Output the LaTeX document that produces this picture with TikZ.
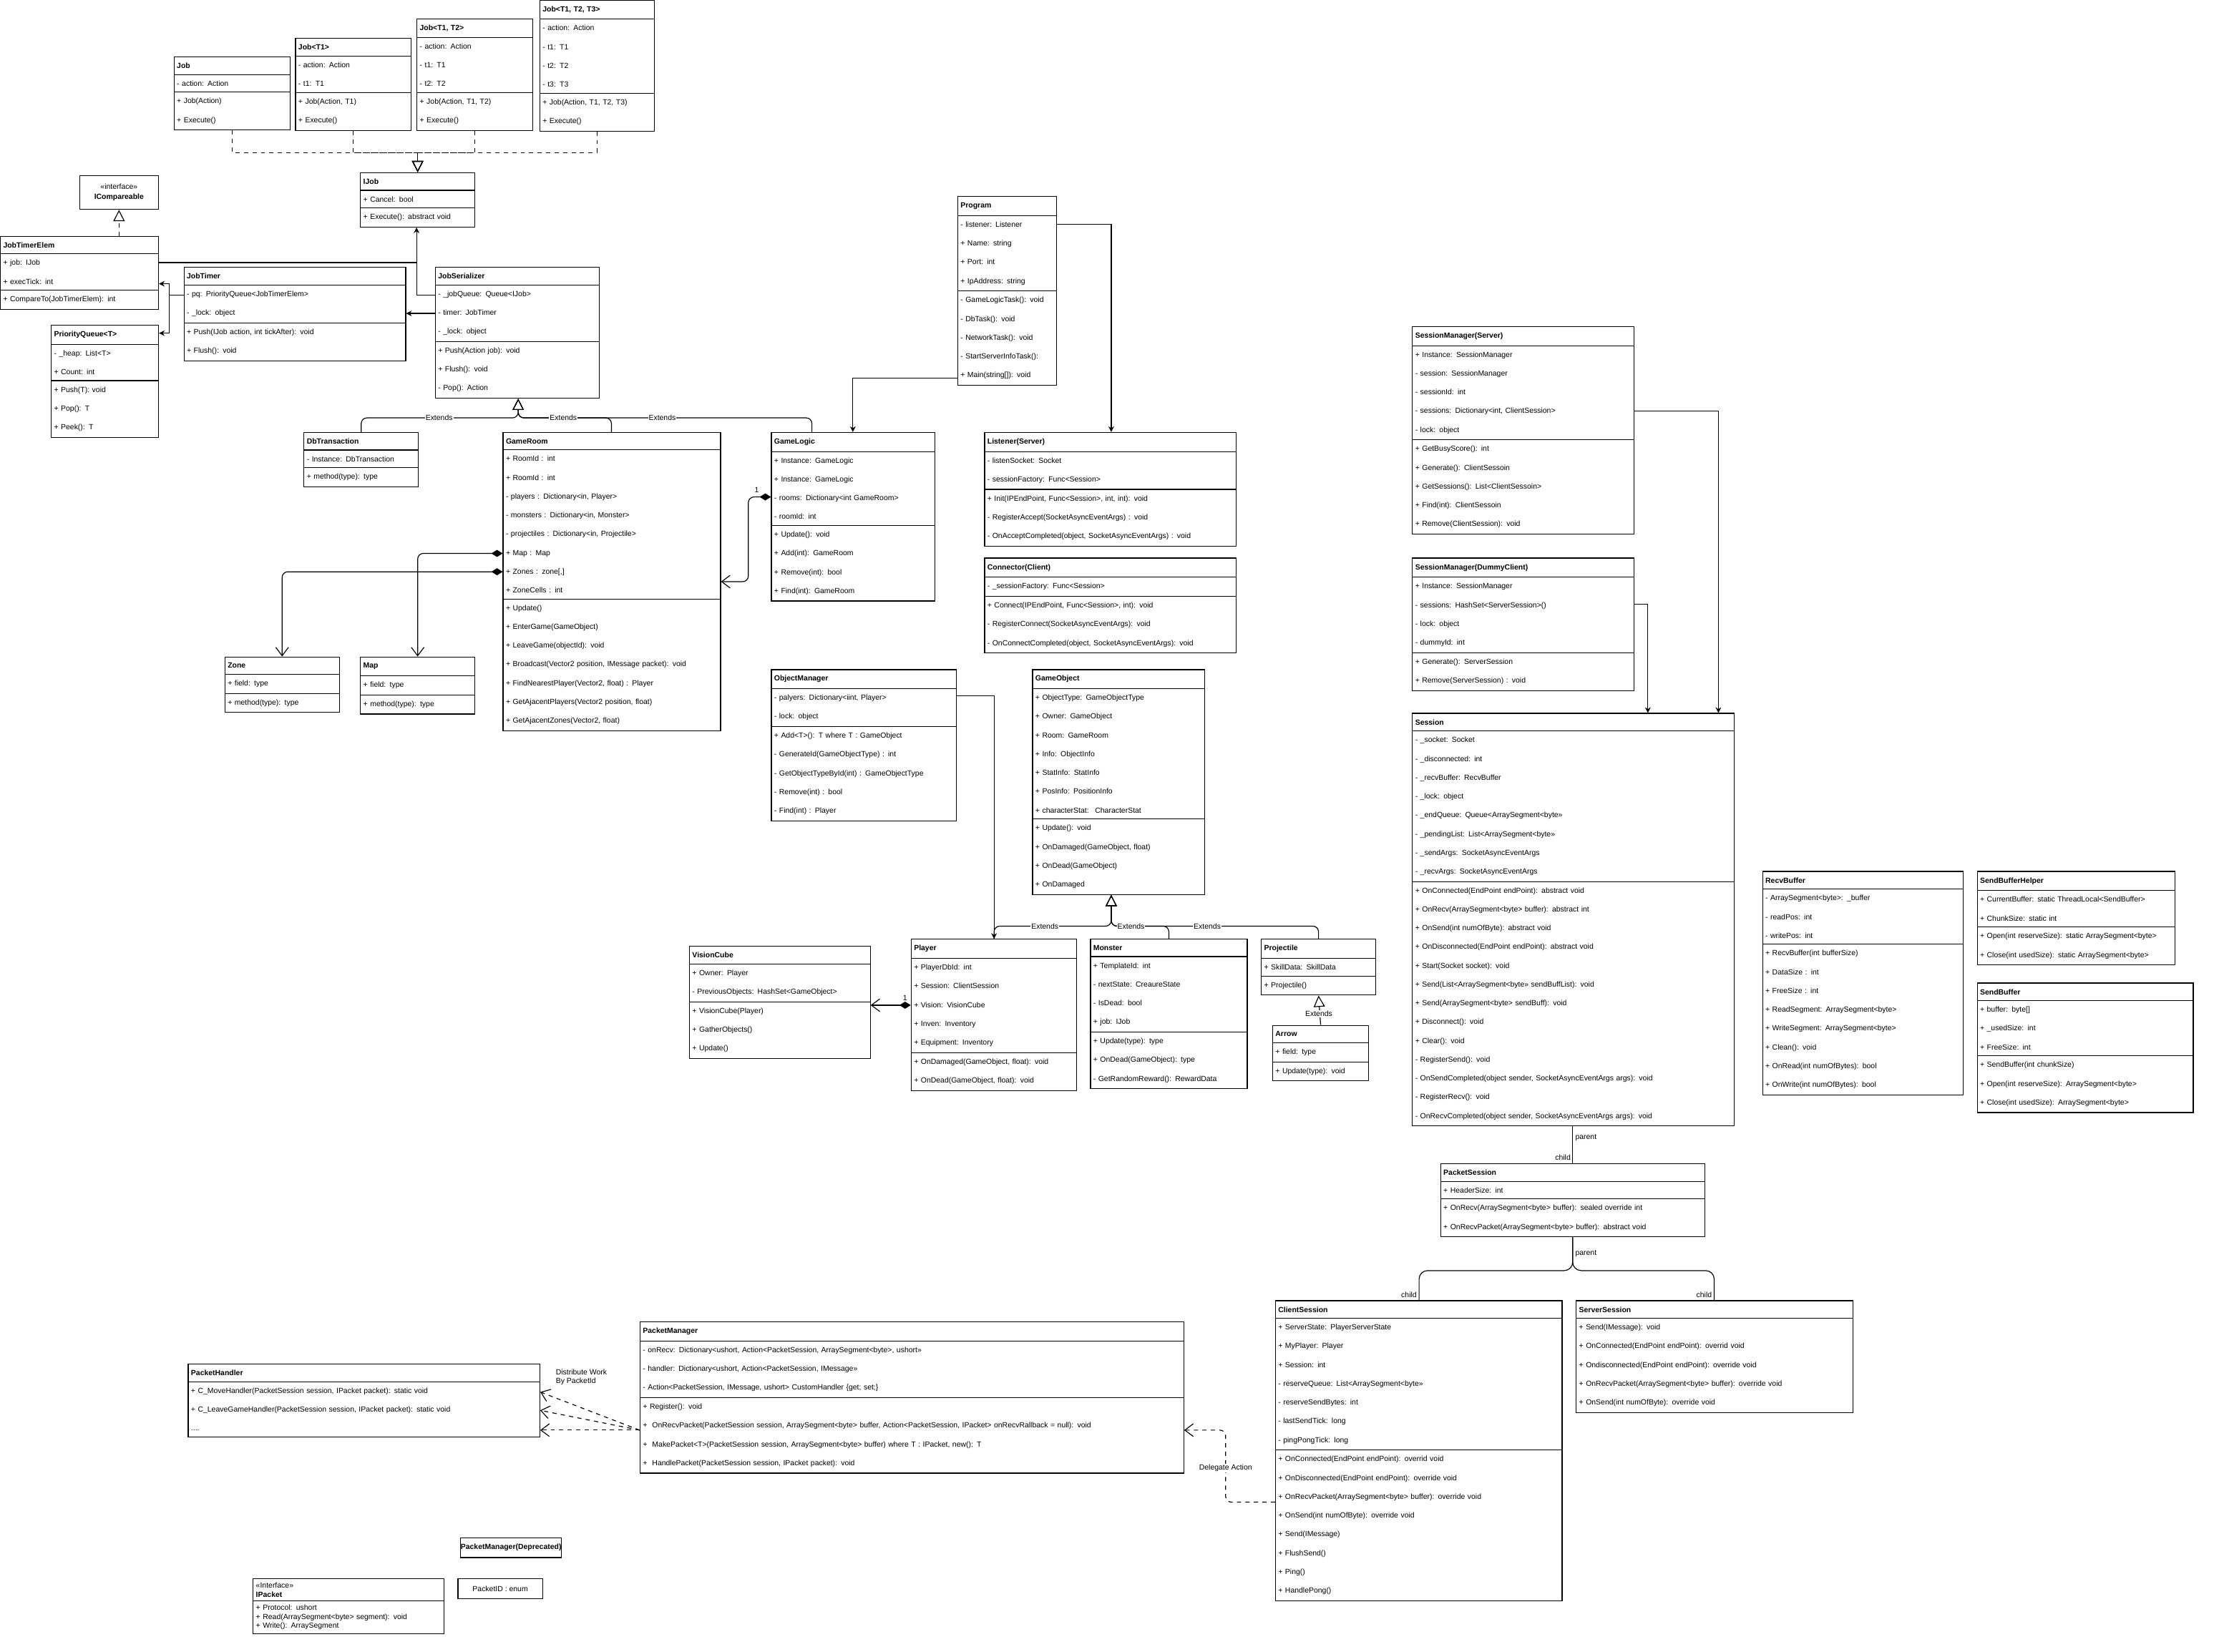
\documentclass[tikz,border=0pt]{standalone}
\usepackage{fontspec}
\setsansfont{Liberation Sans}
\usetikzlibrary{shapes.multipart,arrows.meta}
\tikzset{
 uml/.style={draw,line width=0.6pt,anchor=north west,rectangle split,rectangle split parts=3,
  rectangle split part align={center,left,left},inner xsep=2pt,inner ysep=4pt,
  font=\sffamily\fontsize{5.3}{13.3}\selectfont},
 umltwo/.style={uml,rectangle split parts=2,rectangle split part align={center,left}},
 lbl/.style={font=\sffamily\fontsize{5.3}{6.5}\selectfont,fill=white,inner sep=0.5pt},
 lblt/.style={font=\sffamily\fontsize{5.3}{6.5}\selectfont,inner sep=0.5pt},
 conn/.style={line width=0.6pt},
 inh/.style={conn,-{Triangle[open,length=8pt,width=8pt]},rounded corners=4pt},
 real/.style={conn,dashed,-{Triangle[open,length=8pt,width=8pt]}},
 assoc/.style={conn,-{Stealth[length=4pt,width=4pt]}},
 comp/.style={conn,{Diamond[length=8pt,width=5pt]}-{Straight Barb[length=6pt,width=9pt]},rounded corners=4pt},
 dep/.style={conn,dashed,-{Straight Barb[length=6pt,width=9pt]}},
}
\newcommand\umlc[7]{\pgfmathsetmacro\tw{#4-4}\node[uml,text width=\tw pt] (#1) at (#2,#3) {\textbf{#5}\nodepart{second}#6\nodepart{third}#7};}
\newcommand\umlb[6]{\pgfmathsetmacro\tw{#4-4}\node[umltwo,text width=\tw pt] (#1) at (#2,#3) {\textbf{#5}\nodepart{second}#6};}
\begin{document}
\begin{tikzpicture}[x=1pt,y=-1pt]
\useasboundingbox[fill=white] (0,0) rectangle (1568,1170);
% Jobs
\umlc{job}{123}{40}{82}{Job}{- action: Action}{+ Job(Action)\\+ Execute()}
\umlc{job1}{209}{27}{82}{Job<T1>}{- action: Action\\- t1: T1}{+ Job(Action, T1)\\+ Execute()}
\umlc{job2}{295}{13}{82}{Job<T1, T2>}{- action: Action\\- t1: T1\\- t2: T2}{+ Job(Action, T1, T2)\\+ Execute()}
\umlc{job3}{382}{0}{81}{Job<T1, T2, T3>}{- action: Action\\- t1: T1\\- t2: T2\\- t3: T3}{+ Job(Action, T1, T2, T3)\\+ Execute()}
\umlc{ijob}{255}{122}{81}{IJob}{+ Cancel: bool}{+ Execute(): abstract void}
\foreach \j in {job,job1,job2,job3}{\draw[real] (\j.south) |- (295,108) -| (ijob.north);}
\node[draw,line width=0.6pt,anchor=north west,minimum width=56pt,minimum height=24pt,align=center,font=\sffamily\fontsize{5.3}{7}\selectfont] (icmp) at (56,124) {«interface»\\\textbf{ICompareable}};
\umlc{jte}{0}{167}{112}{JobTimerElem}{+ job: IJob\\+ execTick: int}{+ CompareTo(JobTimerElem): int}
\umlc{pq}{36}{230}{76}{PriorityQueue<T>}{- \_heap: List<T>\\+ Count: int}{+ Push(T): void\\+ Pop(): T\\+ Peek(): T}
\umlc{jt}{130}{189}{157}{JobTimer}{- pq: PriorityQueue<JobTimerElem>\\- \_lock: object}{+ Push(IJob action, int tickAfter): void\\+ Flush(): void}
\umlc{js}{308}{189}{116}{JobSerializer}{- \_jobQueue: Queue<IJob>\\- timer: JobTimer\\- \_lock: object}{+ Push(Action job): void\\+ Flush(): void\\- Pop(): Action}
\draw[real] (jte.north -| icmp.south) -- (icmp.south);
\draw[conn] (jte.east |- 0,186) -- (295,186);
\draw[assoc] (js.west |- 0,209) -- (295,209) -- (ijob.south -| 295,0);
\draw[conn] (jt.west |- 0,209) -- (120,209);
\draw[assoc] (120,209) |- (jte.east |- 0,201);
\draw[assoc] (120,209) |- (pq.east |- 0,236);
\draw[assoc] (js.west |- 0,222) -- (jt.east |- 0,222);
% game
\umlc{db}{215}{306}{81}{DbTransaction}{- Instance: DbTransaction}{+ method(type): type}
\umlc{gr}{356}{306}{154}{GameRoom}{+ RoomId : int\\+ RoomId : int\\- players : Dictionary<in, Player>\\- monsters : Dictionary<in, Monster>\\- projectiles : Dictionary<in, Projectile>\\+ Map : Map\\+ Zones : zone[,]\\+ ZoneCells : int}{+ Update()\\+ EnterGame(GameObject)\\+ LeaveGame(objectId): void\\+ Broadcast(Vector2 position, IMessage packet): void\\+ FindNearestPlayer(Vector2, float) : Player\\+ GetAjacentPlayers(Vector2 position, float)\\+ GetAjacentZones(Vector2, float)}
\umlc{gl}{546}{306}{116}{GameLogic}{+ Instance: GameLogic\\+ Instance: GameLogic\\- rooms: Dictionary<int GameRoom>\\- roomId: int}{+ Update(): void\\+ Add(int): GameRoom\\+ Remove(int): bool\\+ Find(int): GameRoom}
\draw[inh] (db.north) |- (367,296) -- (js.south -| 367,0);
\draw[inh] (gr.north -| 433,0) |- (367,296) -- (js.south -| 367,0);
\draw[inh] (gl.north -| 575,0) |- (367,296) -- (js.south -| 367,0);
\node[lbl] at (311,296) {Extends};
\node[lbl] at (399,296) {Extends};
\node[lbl] at (469,296) {Extends};
\umlc{zone}{159}{465}{81}{Zone}{+ field: type}{+ method(type): type}
\umlc{map}{255}{465}{81}{Map}{+ field: type}{+ method(type): type}
\draw[comp] (gl.west |- 0,352) -- (530,352) |- (gr.east |- 0,412);
\node[lblt] at (536,347) {1};
\draw[comp] (gr.west |- 0,392) -| (map.north);
\draw[comp] (gr.west |- 0,405) -| (zone.north);
% program
\umlc{prog}{678}{139}{70}{Program}{- listener: Listener\\+ Name: string\\+ Port: int\\+ IpAddress: string}{- GameLogicTask(): void\\- DbTask(): void\\- NetworkTask(): void\\- StartServerInfoTask():\\+ Main(string[]): void}
\umlc{lis}{697}{306}{178}{Listener(Server)}{- listenSocket: Socket\\- sessionFactory: Func<Session>}{+ Init(IPEndPoint, Func<Session>, int, int): void\\- RegisterAccept(SocketAsyncEventArgs) : void\\- OnAcceptCompleted(object, SocketAsyncEventArgs) : void}
\umlc{con}{697}{395}{178}{Connector(Client)}{- \_sessionFactory: Func<Session>}{+ Connect(IPEndPoint, Func<Session>, int): void\\- RegisterConnect(SocketAsyncEventArgs): void\\- OnConnectCompleted(object, SocketAsyncEventArgs): void}
\draw[assoc] (prog.east |- 0,159) -| (lis.north -| 787,0);
\draw[assoc] (prog.west |- 0,268) -| (gl.north -| 604,0);
% objects
\umlc{om}{546}{474}{131}{ObjectManager}{- palyers: Dictionary<iint, Player>\\- lock: object}{+ Add<T>(): T where T : GameObject\\- GenerateId(GameObjectType) : int\\- GetObjectTypeById(int) : GameObjectType\\- Remove(int) : bool\\- Find(int) : Player}
\umlc{go}{731}{474}{122}{GameObject}{+ ObjectType: GameObjectType\\+ Owner: GameObject\\+ Room: GameRoom\\+ Info: ObjectInfo\\+ StatInfo: StatInfo\\+ PosInfo: PositionInfo\\+ characterStat:~ CharacterStat}{+ Update(): void\\+ OnDamaged(GameObject, float)\\+ OnDead(GameObject)\\+ OnDamaged}
\umlc{pl}{645}{665}{117}{Player}{+ PlayerDbId: int\\+ Session: ClientSession\\+ Vision: VisionCube\\+ Inven: Inventory\\+ Equipment: Inventory}{+ OnDamaged(GameObject, float): void\\+ OnDead(GameObject, float): void}
\umlc{mon}{772}{665}{111}{Monster}{+ TemplateId: int\\- nextState: CreaureState\\- IsDead: bool\\+ job: IJob}{+ Update(type): type\\+ OnDead(GameObject): type\\- GetRandomReward(): RewardData}
\umlc{proj}{893}{665}{81}{Projectile}{+ SkillData: SkillData}{+ Projectile()}
\umlc{arrow}{901}{726}{68}{Arrow}{+ field: type}{+ Update(type): void}
\umlc{vc}{488}{670}{128}{VisionCube}{+ Owner: Player\\- PreviousObjects: HashSet<GameObject>}{+ VisionCube(Player)\\+ GatherObjects()\\+ Update()}
\draw[assoc] (om.east |- 0,493) -| (pl.north -| 704,0);
\draw[inh] (pl.north -| 704,0) |- (787,656) -- (go.south -| 787,0);
\draw[inh] (mon.north) |- (787,656) -- (go.south -| 787,0);
\draw[inh] (proj.north) |- (787,656) -- (go.south -| 787,0);
\node[lbl] at (740,656) {Extends};
\node[lbl] at (801,656) {Extends};
\node[lbl] at (855,656) {Extends};
\draw[inh] (arrow.north) -- (proj.south);
\node[lbl] at (934,718) {Extends};
\draw[comp] (pl.west |- 0,712) -- (vc.east |- 0,712);
\node[lblt] at (641,707) {1};
% sessions
\umlc{smS}{1000}{231}{157}{SessionManager(Server)}{+ Instance: SessionManager\\- session: SessionManager\\- sessionId: int\\- sessions: Dictionary<int, ClientSession>\\- lock: object}{+ GetBusyScore(): int\\+ Generate(): ClientSessoin\\+ GetSessions(): List<ClientSessoin>\\+ Find(int): ClientSessoin\\+ Remove(ClientSession): void}
\umlc{smD}{1000}{395}{157}{SessionManager(DummyClient)}{+ Instance: SessionManager\\- sessions: HashSet<ServerSession>()\\- lock: object\\- dummyId: int}{+ Generate(): ServerSession\\+ Remove(ServerSession) : void}
\umlc{ses}{1000}{505}{228}{Session}{- \_socket: Socket\\- \_disconnected: int\\- \_recvBuffer: RecvBuffer\\- \_lock: object\\- \_endQueue: Queue<ArraySegment<byte>>\\- \_pendingList: List<ArraySegment<byte>>\\- \_sendArgs: SocketAsyncEventArgs\\- \_recvArgs: SocketAsyncEventArgs}{+ OnConnected(EndPoint endPoint): abstract void\\+ OnRecv(ArraySegment<byte> buffer): abstract int\\+ OnSend(int numOfByte): abstract void\\+ OnDisconnected(EndPoint endPoint): abstract void\\+ Start(Socket socket): void\\+ Send(List<ArraySegment<byte>> sendBuffList): void\\+ Send(ArraySegment<byte> sendBuff): void\\+ Disconnect(): void\\+ Clear(): void\\- RegisterSend(): void\\- OnSendCompleted(object sender, SocketAsyncEventArgs args): void\\- RegisterRecv(): void\\- OnRecvCompleted(object sender, SocketAsyncEventArgs args): void}
\draw[assoc] (smS.east |- 0,291) -| (ses.north -| 1217,0);
\draw[assoc] (smD.east |- 0,428) -| (ses.north -| 1167,0);
\umlc{ps}{1020}{824}{187}{PacketSession}{+ HeaderSize: int}{+ OnRecv(ArraySegment<byte> buffer): sealed override int\\+ OnRecvPacket(ArraySegment<byte> buffer): abstract void}
\draw[conn] (ses.south -| ps.north) -- (ps.north);
\node[lblt,anchor=west] at (1115,806) {parent};
\node[lblt,anchor=east] at (1113,820) {child};
\umlc{cs}{903}{921}{203}{ClientSession}{+ ServerState: PlayerServerState\\+ MyPlayer: Player\\+ Session: int\\- reserveQueue: List<ArraySegment<byte>>\\- reserveSendBytes: int\\- lastSendTick: long\\- pingPongTick: long}{+ OnConnected(EndPoint endPoint): overrid void\\+ OnDisconnected(EndPoint endPoint): override void\\+ OnRecvPacket(ArraySegment<byte> buffer): override void\\+ OnSend(int numOfByte): override void\\+ Send(IMessage)\\+ FlushSend()\\+ Ping()\\+ HandlePong()}
\umlb{ss}{1116}{921}{196}{ServerSession}{+ Send(IMessage): void\\+ OnConnected(EndPoint endPoint): overrid void\\+ Ondisconnected(EndPoint endPoint): override void\\+ OnRecvPacket(ArraySegment<byte> buffer): override void\\+ OnSend(int numOfByte): override void}
\draw[conn,rounded corners=6pt] (ps.south) |- (1005,900) -- (cs.north -| 1005,0);
\draw[conn,rounded corners=6pt] (ps.south) |- (1214,900) -- (ss.north -| 1214,0);
\node[lblt,anchor=west] at (1115,888) {parent};
\node[lblt,anchor=east] at (1004,917) {child};
\node[lblt,anchor=east] at (1213,917) {child};
\umlc{rb}{1248}{617}{142}{RecvBuffer}{- ArraySegment<byte>: \_buffer\\- readPos: int\\- writePos: int}{+ RecvBuffer(int bufferSize)\\+ DataSize : int\\+ FreeSize : int\\+ ReadSegment: ArraySegment<byte>\\+ WriteSegment: ArraySegment<byte>\\+ Clean(): void\\+ OnRead(int numOfBytes): bool\\+ OnWrite(int numOfBytes): bool}
\umlc{sbh}{1400}{617}{140}{SendBufferHelper}{+ CurrentBuffer: static ThreadLocal<SendBuffer>\\+ ChunkSize: static int}{+ Open(int reserveSize): static ArraySegment<byte>\\+ Close(int usedSize): static ArraySegment<byte>}
\umlc{sb}{1400}{696}{153}{SendBuffer}{+ buffer: byte[]\\+ \_usedSize: int\\+ FreeSize: int}{+ SendBuffer(int chunkSize)\\+ Open(int reserveSize): ArraySegment<byte>\\+ Close(int usedSize): ArraySegment<byte>}
% packets
\umlc{pm}{453}{936}{385}{PacketManager}{- onRecv: Dictionary<ushort, Action<PacketSession, ArraySegment<byte>, ushort>>\\- handler: Dictionary<ushort, Action<PacketSession, IMessage>>\\- Action<PacketSession, IMessage, ushort> CustomHandler \{get; set;\}}{+ Register(): void\\+~ OnRecvPacket(PacketSession session, ArraySegment<byte> buffer, Action<PacketSession, IPacket> onRecvRallback = null): void\\+~ MakePacket<T>(PacketSession session, ArraySegment<byte> buffer) where T : IPacket, new(): T\\+~ HandlePacket(PacketSession session, IPacket packet): void}
\umlb{ph}{133}{966}{249}{PacketHandler}{+ C\_MoveHandler(PacketSession session, IPacket packet): static void\\+ C\_LeaveGameHandler(PacketSession session, IPacket packet): static void\\....}
\draw[dep] (pm.west |- 0,1013) -- (ph.east |- 0,986);
\draw[dep] (pm.west |- 0,1013) -- (ph.east |- 0,999);
\draw[dep] (pm.west |- 0,1013) -- (ph.east |- 0,1013);
\node[lblt,anchor=north west,align=left] at (393,969) {Distribute Work\\By PacketId};
\draw[dep,rounded corners=4pt] (cs.west |- 0,1064) -- (868,1064) |- (pm.east |- 0,1013);
\node[lbl] at (868,1040) {Delegate Action};
\node[draw,line width=0.6pt,anchor=north west,minimum width=70pt,minimum height=14pt,inner sep=0pt,font=\sffamily\bfseries\fontsize{5.3}{6.5}\selectfont] (pmd) at (326,1089) {PacketManager(Deprecated)};
\node[draw,line width=0.6pt,anchor=north west,minimum width=60pt,minimum height=14pt,inner sep=0pt,font=\sffamily\fontsize{5.3}{6.5}\selectfont] (pid) at (324,1118) {PacketID : enum};
\node[draw,line width=0.6pt,anchor=north west,rectangle split,rectangle split parts=2,rectangle split part align={center,left},text width=131pt,inner xsep=2pt,inner ysep=2.5pt,font=\sffamily\fontsize{5.3}{6.3}\selectfont] (ipk) at (179,1118) {<<Interface>>\\\textbf{IPacket}\nodepart{second}+ Protocol: ushort\\+ Read(ArraySegment<byte> segment): void\\+ Write(): ArraySegment\\[1pt]};
\end{tikzpicture}
\end{document}
